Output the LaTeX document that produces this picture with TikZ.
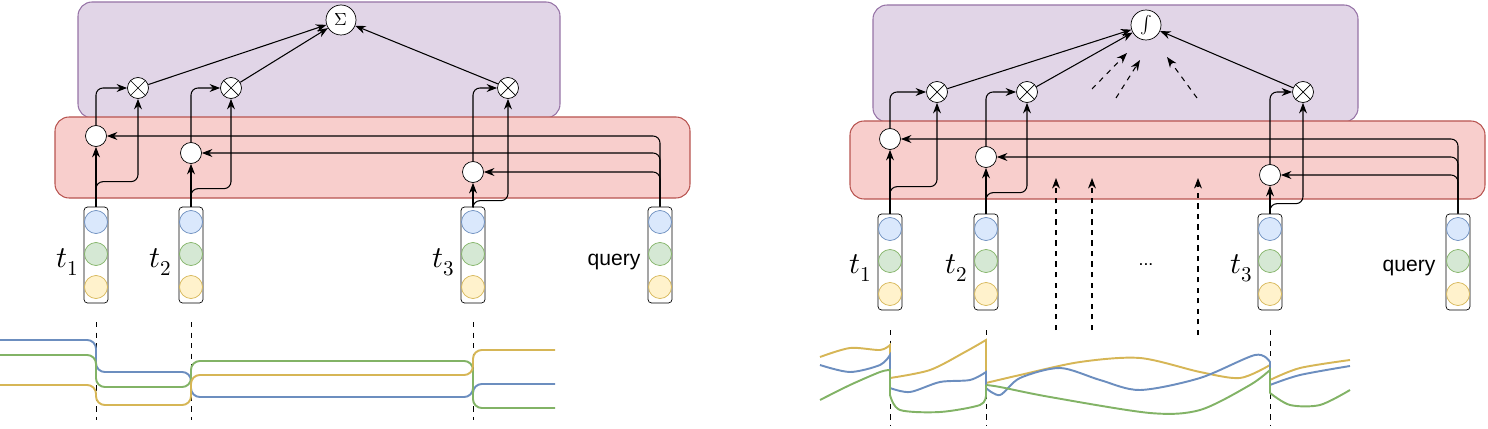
\documentclass[tikz,border=0pt]{standalone}
\usepackage{fontspec}
\setmainfont{Liberation Sans}
\usepackage{unicode-math}
\setmathfont{Latin Modern Math}
\usetikzlibrary{arrows.meta}
\definecolor{cblue}{RGB}{108,142,191}
\definecolor{cgreen}{RGB}{130,179,102}
\definecolor{cyell}{RGB}{214,182,86}
\definecolor{fblue}{RGB}{218,232,252}
\definecolor{fgreen}{RGB}{213,232,212}
\definecolor{fyell}{RGB}{255,242,204}
\definecolor{fviol}{RGB}{225,213,231}
\definecolor{dviol}{RGB}{150,115,166}
\definecolor{fred}{RGB}{248,206,204}
\definecolor{dred}{RGB}{184,84,80}
\tikzstyle{panelup} =[draw=dviol, fill=fviol, rounded corners=8pt, line width=0.6pt]
\tikzstyle{panellow} =[draw=dred, fill=fred, rounded corners=8pt, line width=0.6pt]
\tikzstyle{op} =[circle, draw=black, fill=white, minimum size=0.42cm, inner sep=0pt]
\tikzstyle{mul} =[op, path picture={\draw (path picture bounding box.north west)--(path picture bounding box.south east) (path picture bounding box.north east)--(path picture bounding box.south west);}]
\tikzstyle{dot} =[op, path picture={\fill (path picture bounding box.center) circle (2pt);}]
\tikzstyle{sumop} =[circle, draw=black, fill=white, minimum size=0.6cm, inner sep=0pt]
\tikzstyle{vec} =[rectangle, rounded corners=2pt, draw=black, fill=white, minimum width=0.48cm, minimum height=1.92cm, inner sep=0pt]
\tikzstyle{arrow} =[semithick, ->, >={Stealth[length=6pt]}, rounded corners=4pt]
\tikzstyle{darrow} =[semithick, dashed, ->, >={Stealth[length=6pt]}]
\tikzstyle{tick} =[thin, dashed]
\tikzstyle{curve} =[line width=1.1pt, rounded corners=5pt]
\newcommand{\vecbox}[3]{%
  \node (#1) [vec] at (#2,#3) {};
  \fill[fblue, draw=cblue] (#2,#3-33) circle (0.23cm);
  \fill[fgreen, draw=cgreen] (#2,#3-1) circle (0.23cm);
  \fill[fyell, draw=cyell] (#2,#3+32) circle (0.23cm);
}
\begin{document}
\begin{tikzpicture}[x=0.02cm, y=-0.02cm]
\useasboundingbox (0,0) rectangle (1488,429);
% left panel
\draw[panelup] (78,2) rectangle (560,118);
\draw[panellow] (55,117) rectangle (690,198);
\node (S) [sumop] at (341,20) {$\Sigma$};
\node (m1) [mul] at (138,88) {};
\node (m2) [mul] at (231,88) {};
\node (m3) [mul] at (508,88) {};
\node (d1) [dot] at (96,136) {};
\node (d2) [dot] at (191,153) {};
\node (d3) [dot] at (473,172) {};
\vecbox{v1}{96}{255}
\vecbox{v2}{191}{255}
\vecbox{v3}{473}{255}
\vecbox{q}{660}{255}
\node (l1) at (68,262) {\LARGE$t_1$};
\node (l2) at (161,262) {\LARGE$t_2$};
\node (l3) at (444,262) {\LARGE$t_3$};
\node (lq) at (614,262) {\large query};
\draw [arrow] (v1.north)--(d1);
\draw [arrow] (v2.north)--(d2);
\draw [arrow] (v3.north)--(d3);
\draw [arrow] (v1.north)--++(0,-25)-|(m1.south);
\draw [arrow] (v2.north)--++(0,-18)-|(m2.south);
\draw [arrow] (v3.north)--++(0,-6)-|(m3.south);
\draw [arrow] (d1.north)|-(m1.west);
\draw [arrow] (d2.north)|-(m2.west);
\draw [arrow] (d3.north)|-(m3.west);
\draw [arrow] (q.north)|-(d1.east);
\draw [arrow] (q.north)|-(d2.east);
\draw [arrow] (q.north)|-(d3.east);
\draw [arrow] (m1)--(S);
\draw [arrow] (m2)--(S);
\draw [arrow] (m3)--(S);
\foreach \x in {96,191,473} \draw[tick] (\x,322)--(\x,420);
\draw[curve, cblue] (0,340)--(96,340)--(96,372)--(191,372)--(191,397)--(473,397)--(473,384)--(555,384);
\draw[curve, cgreen] (0,355)--(96,355)--(96,387)--(191,387)--(191,361)--(473,361)--(473,408)--(555,408);
\draw[curve, cyell] (0,385)--(96,385)--(96,405)--(191,405)--(191,375)--(473,375)--(473,350)--(555,350);
% right panel
\draw[panelup] (873,5) rectangle (1358,122);
\draw[panellow] (850,121) rectangle (1485,199);
\node (I) [sumop] at (1146,25) {$\int$};
\node (n1) [mul] at (937,92) {};
\node (n2) [mul] at (1027,92) {};
\node (n3) [mul] at (1303,92) {};
\node (e1) [dot] at (890,139) {};
\node (e2) [dot] at (986,157) {};
\node (e3) [dot] at (1270,175) {};
\vecbox{w1}{890}{262}
\vecbox{w2}{986}{262}
\vecbox{w3}{1270}{262}
\vecbox{p}{1458}{262}
\node (k1) at (861,268) {\LARGE$t_1$};
\node (k2) at (957,268) {\LARGE$t_2$};
\node (k3) at (1242,268) {\LARGE$t_3$};
\node (kq) at (1409,268) {\large query};
\node (dots) at (1146,265) {...};
\draw [arrow] (w1.north)--(e1);
\draw [arrow] (w2.north)--(e2);
\draw [arrow] (w3.north)--(e3);
\draw [arrow] (w1.north)--++(0,-27)-|(n1.south);
\draw [arrow] (w2.north)--++(0,-21)-|(n2.south);
\draw [arrow] (w3.north)--++(0,-10)-|(n3.south);
\draw [arrow] (e1.north)|-(n1.west);
\draw [arrow] (e2.north)|-(n2.west);
\draw [arrow] (e3.north)|-(n3.west);
\draw [arrow] (p.north)|-(e1.east);
\draw [arrow] (p.north)|-(e2.east);
\draw [arrow] (p.north)|-(e3.east);
\draw [arrow] (n1)--(I);
\draw [arrow] (n2)--(I);
\draw [arrow] (n3)--(I);
\coordinate (a1) at (1092,89);  \coordinate (b1) at (1127,53);
\coordinate (a2) at (1116,98);  \coordinate (b2) at (1140,60);
\coordinate (a3) at (1197,98);  \coordinate (b3) at (1167,57);
\foreach \i in {1,2,3} \draw [darrow] (a\i)--(b\i);
\coordinate (c1) at (1056,330); \coordinate (f1) at (1056,178);
\coordinate (c2) at (1092,330); \coordinate (f2) at (1092,178);
\coordinate (c3) at (1198,335); \coordinate (f3) at (1198,178);
\foreach \i in {1,2,3} \draw [darrow] (c\i)--(f\i);
\foreach \x in {890,986,1270} \draw[tick] (\x,330)--(\x,425);
\draw[line width=1.1pt, cyell] plot[smooth] coordinates {(820,357)(850,348)(880,350)(890,345)} -- (890,378) plot[smooth] coordinates {(890,378)(930,370)(965,352)(986,340)} -- (986,383) plot[smooth] coordinates {(986,383)(1020,375)(1080,362)(1140,358)(1200,372)(1240,378)(1270,365)} -- (1270,380) plot[smooth] coordinates {(1270,380)(1300,368)(1350,360)};
\draw[line width=1.1pt, cblue] plot[smooth] coordinates {(820,365)(850,372)(880,365)(890,355)} -- (890,388) plot[smooth] coordinates {(890,388)(910,392)(940,382)(970,380)(986,372)} -- (986,388) plot[smooth] coordinates {(986,388)(1000,395)(1020,378)(1060,368)(1100,380)(1140,390)(1200,378)(1255,355)(1270,362)} -- (1270,385) plot[smooth] coordinates {(1270,385)(1300,375)(1350,366)};
\draw[line width=1.1pt, cgreen] plot[smooth] coordinates {(820,400)(850,385)(880,372)(890,370)} -- (890,395) plot[smooth] coordinates {(890,395)(900,410)(940,412)(980,405)(986,395)} -- (986,385) plot[smooth] coordinates {(986,385)(1000,387)(1050,397)(1150,413)(1200,410)(1250,385)(1270,370)} -- (1270,393) plot[smooth] coordinates {(1270,393)(1290,405)(1320,405)(1350,390)};
\end{tikzpicture}
\end{document}
